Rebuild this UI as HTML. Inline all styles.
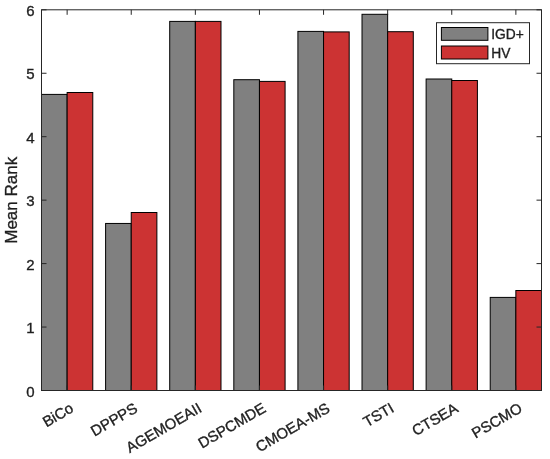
<!DOCTYPE html>
<html><head><meta charset="utf-8"><title>Mean Rank</title>
<style>html,body{margin:0;padding:0;background:#fff;}svg{display:block}</style></head>
<body>
<svg width="550" height="459" viewBox="0 0 550 459" font-family="'Liberation Sans', Arial, Helvetica, sans-serif" fill="#262626">
<style>text{fill:#1f1f1f;stroke:#1f1f1f;stroke-width:0.35px;}</style>
<rect x="0" y="0" width="550" height="459" fill="#ffffff"/>
<rect x="41.50" y="94.40" width="25.64" height="296.10" fill="#808080" stroke="#000" stroke-width="1"/>
<rect x="67.14" y="92.50" width="25.64" height="298.00" fill="#cc3333" stroke="#000" stroke-width="1"/>
<rect x="105.60" y="223.45" width="25.64" height="167.05" fill="#808080" stroke="#000" stroke-width="1"/>
<rect x="131.24" y="212.50" width="25.64" height="178.00" fill="#cc3333" stroke="#000" stroke-width="1"/>
<rect x="169.71" y="21.40" width="25.64" height="369.10" fill="#808080" stroke="#000" stroke-width="1"/>
<rect x="195.35" y="21.40" width="25.64" height="369.10" fill="#cc3333" stroke="#000" stroke-width="1"/>
<rect x="233.81" y="79.70" width="25.64" height="310.80" fill="#808080" stroke="#000" stroke-width="1"/>
<rect x="259.45" y="81.40" width="25.64" height="309.10" fill="#cc3333" stroke="#000" stroke-width="1"/>
<rect x="297.91" y="31.40" width="25.64" height="359.10" fill="#808080" stroke="#000" stroke-width="1"/>
<rect x="323.55" y="31.90" width="25.64" height="358.60" fill="#cc3333" stroke="#000" stroke-width="1"/>
<rect x="362.01" y="14.30" width="25.64" height="376.20" fill="#808080" stroke="#000" stroke-width="1"/>
<rect x="387.65" y="31.70" width="25.64" height="358.80" fill="#cc3333" stroke="#000" stroke-width="1"/>
<rect x="426.12" y="79.00" width="25.64" height="311.50" fill="#808080" stroke="#000" stroke-width="1"/>
<rect x="451.76" y="80.50" width="25.64" height="310.00" fill="#cc3333" stroke="#000" stroke-width="1"/>
<rect x="490.22" y="297.40" width="25.64" height="93.10" fill="#808080" stroke="#000" stroke-width="1"/>
<rect x="515.86" y="290.50" width="25.64" height="100.00" fill="#cc3333" stroke="#000" stroke-width="1"/>
<rect x="41.5" y="9.8" width="500.0" height="380.7" fill="none" stroke="#262626" stroke-width="1"/>
<path d="M67.14 390.5v-5M67.14 9.8v5M131.24 390.5v-5M131.24 9.8v5M195.35 390.5v-5M195.35 9.8v5M259.45 390.5v-5M259.45 9.8v5M323.55 390.5v-5M323.55 9.8v5M387.65 390.5v-5M387.65 9.8v5M451.76 390.5v-5M451.76 9.8v5M515.86 390.5v-5M515.86 9.8v5M41.5 390.50h5M541.5 390.50h-5M41.5 327.05h5M541.5 327.05h-5M41.5 263.60h5M541.5 263.60h-5M41.5 200.15h5M541.5 200.15h-5M41.5 136.70h5M541.5 136.70h-5M41.5 73.25h5M541.5 73.25h-5M41.5 9.80h5M541.5 9.80h-5" stroke="#262626" stroke-width="1" fill="none"/>
<text x="34.7" y="396.60" font-size="15" text-anchor="end">0</text>
<text x="34.7" y="333.15" font-size="15" text-anchor="end">1</text>
<text x="34.7" y="269.70" font-size="15" text-anchor="end">2</text>
<text x="34.7" y="206.25" font-size="15" text-anchor="end">3</text>
<text x="34.7" y="142.80" font-size="15" text-anchor="end">4</text>
<text x="34.7" y="79.35" font-size="15" text-anchor="end">5</text>
<text x="34.7" y="15.90" font-size="15" text-anchor="end">6</text>
<text transform="translate(74.54 411.20) rotate(-30)" font-size="15" text-anchor="end">BiCo</text>
<text transform="translate(138.64 411.20) rotate(-30)" font-size="15" text-anchor="end">DPPPS</text>
<text transform="translate(202.75 411.20) rotate(-30)" font-size="15" text-anchor="end">AGEMOEAII</text>
<text transform="translate(266.85 411.20) rotate(-30)" font-size="15" text-anchor="end">DSPCMDE</text>
<text transform="translate(330.95 411.20) rotate(-30)" font-size="15" text-anchor="end">CMOEA-MS</text>
<text transform="translate(395.05 411.20) rotate(-30)" font-size="15" text-anchor="end">TSTI</text>
<text transform="translate(459.16 411.20) rotate(-30)" font-size="15" text-anchor="end">CTSEA</text>
<text transform="translate(523.26 411.20) rotate(-30)" font-size="15" text-anchor="end">PSCMO</text>
<text transform="translate(17.2 200.3) rotate(-90)" font-size="17.0" text-anchor="middle">Mean Rank</text>
<rect x="436.5" y="22.7" width="93" height="41" fill="#fff" stroke="#262626" stroke-width="1"/>
<rect x="441.4" y="27.5" width="46.5" height="12.8" fill="#808080" stroke="#000" stroke-width="1"/>
<rect x="441.4" y="46" width="46.5" height="13" fill="#cc3333" stroke="#000" stroke-width="1"/>
<text x="491.2" y="39.4" font-size="13.8">IGD+</text>
<text x="491.2" y="57.9" font-size="13.8">HV</text>
</svg>
</body></html>
